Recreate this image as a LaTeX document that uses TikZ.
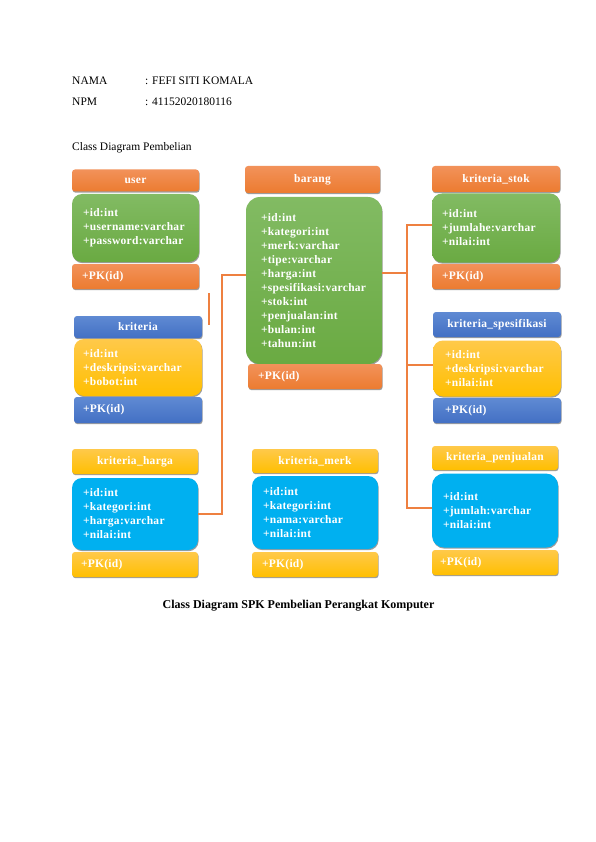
\documentclass[tikz,border=0pt]{standalone}
\usepackage{fontspec}
\setmainfont{Liberation Serif}
\newfontfamily\boxfont[LetterSpace=2.5]{Liberation Serif}
\usetikzlibrary{shadows}
\definecolor{orT}{HTML}{F2925A}
\definecolor{orB}{HTML}{EC7B30}
\definecolor{grT}{HTML}{82BB63}
\definecolor{grB}{HTML}{6AAA42}
\definecolor{blT}{HTML}{5F8AD3}
\definecolor{blB}{HTML}{4370C4}
\definecolor{goT}{HTML}{FFC94A}
\definecolor{goB}{HTML}{FFBF00}
\definecolor{cyanC}{HTML}{00B0F0}
\definecolor{lineC}{HTML}{EE8040}
\tikzset{
  boxbase/.style={rectangle, text=white, inner ysep=0pt, font=\boxfont\bfseries\fontsize{11.5}{14}\selectfont,
    drop shadow={shadow xshift=0.6pt, shadow yshift=-1.2pt, opacity=0.55, fill=black!70}},
  hdr/.style={boxbase, rounded corners=3pt, align=center},
  bodyb/.style={boxbase, rounded corners=10pt, align=left, inner xsep=11pt},
  pkb/.style={boxbase, rounded corners=3pt, align=left, inner xsep=10pt},
  orangeS/.style={top color=orT, bottom color=orB},
  greenS/.style={top color=grT, bottom color=grB},
  blueS/.style={top color=blT, bottom color=blB},
  goldS/.style={top color=goT, bottom color=goB},
  cyanS/.style={fill=cyanC},
  conn/.style={draw=lineC, line width=2pt},
  plain/.style={anchor=west, inner sep=0pt, font=\fontsize{11.5}{14}\selectfont}
}
\begin{document}
\begin{tikzpicture}[x=1pt,y=-1pt]
\useasboundingbox (0,0) rectangle (595,842);
\fill[white] (0,0) rectangle (595,842);
% header texts
\node[plain] (nama) at (72,81) {NAMA};
\node[plain] (namav) at (145,81) {: FEFI SITI KOMALA};
\node[plain] (npm) at (72,102) {NPM};
\node[plain] (npmv) at (145,102) {: 41152020180116};
\node[plain] (cdp) at (72,148) {Class Diagram Pembelian};
% user
\node[hdr, orangeS, minimum width=127pt, minimum height=22pt] (userH) at (135.5,180.5) {user};
\node[bodyb, greenS, minimum height=68pt, text width=105pt] (userB) at (135.5,228) {+id:int\\+username:varchar\\+password:varchar};
\node[pkb, orangeS, minimum height=25pt, text width=107pt] (userP) at (135.5,276.5) {+PK(id)};
% barang
\node[hdr, orangeS, minimum width=135pt, minimum height=27pt] (barangH) at (312.5,179.5) {barang};
\node[bodyb, greenS, rounded corners=14pt, minimum height=167pt, text width=106pt, inner xsep=15pt] (barangB) at (314,280.5) {+id:int\\+kategori:int\\+merk:varchar\\+tipe:varchar\\+harga:int\\+spesifikasi:varchar\\+stok:int\\+penjualan:int\\+bulan:int\\+tahun:int};
\node[pkb, orangeS, minimum height=25pt, text width=114pt] (barangP) at (315,376.5) {+PK(id)};
% kriteria_stok
\node[hdr, orangeS, minimum width=128pt, minimum height=26pt] (stokH) at (496,179) {kriteria\_stok};
\node[bodyb, greenS, minimum height=69pt, text width=108pt, inner xsep=10pt] (stokB) at (496,228) {+id:int\\+jumlahe:varchar\\+nilai:int};
\node[pkb, orangeS, minimum height=25pt, text width=108pt] (stokP) at (496,276.5) {+PK(id)};
% kriteria
\node[hdr, blueS, minimum width=128pt, minimum height=22pt] (kritH) at (138,327) {kriteria};
\node[bodyb, goldS, minimum height=57pt, text width=110pt, inner xsep=9pt] (kritB) at (138,367.5) {+id:int\\+deskripsi:varchar\\+bobot:int};
\node[pkb, blueS, minimum height=26pt, text width=110pt, inner xsep=9pt] (kritP) at (138,410) {+PK(id)};
% kriteria_spesifikasi
\node[hdr, blueS, minimum width=128pt, minimum height=25pt] (spesH) at (497,324.5) {kriteria\_spesifikasi};
\node[bodyb, goldS, minimum height=56pt, text width=104pt, inner xsep=12pt] (spesB) at (497,368.5) {+id:int\\+deskripsi:varchar\\+nilai:int};
\node[pkb, blueS, minimum height=25pt, text width=104pt, inner xsep=12pt] (spesP) at (497,410.5) {+PK(id)};
% kriteria_harga
\node[hdr, goldS, minimum width=126pt, minimum height=25pt] (hargaH) at (135,461.5) {kriteria\_harga};
\node[bodyb, cyanS, minimum height=72pt, text width=104pt] (hargaB) at (135,514) {+id:int\\+kategori:int\\+harga:varchar\\+nilai:int};
\node[pkb, goldS, minimum height=25pt, text width=108pt, inner xsep=9pt] (hargaP) at (135,564.5) {+PK(id)};
% kriteria_merk
\node[hdr, goldS, minimum width=126pt, minimum height=24pt] (merkH) at (315,461) {kriteria\_merk};
\node[bodyb, cyanS, minimum height=73pt, text width=104pt] (merkB) at (315,512.5) {+id:int\\+kategori:int\\+nama:varchar\\+nilai:int};
\node[pkb, goldS, minimum height=25pt, text width=106pt] (merkP) at (315,564.5) {+PK(id)};
% kriteria_penjualan
\node[hdr, goldS, minimum width=126pt, minimum height=24pt] (penjH) at (495,458) {kriteria\_penjualan};
\node[bodyb, cyanS, rounded corners=12pt, minimum height=74pt, text width=104pt] (penjB) at (495,510.5) {+id:int\\+jumlah:varchar\\+nilai:int};
\node[pkb, goldS, minimum height=25pt, text width=110pt, inner xsep=8pt] (penjP) at (495,562.5) {+PK(id)};
% connectors
\coordinate (jL1) at (222,275);
\coordinate (jL2) at (222,514);
\coordinate (jR0) at (407,273);
\coordinate (jR1) at (407,225);
\coordinate (jR2) at (407,365);
\coordinate (jR3) at (407,508);
\coordinate (s1) at (209,293);
\coordinate (s2) at (209,325);
\draw[conn] (barangB.west |- jL1) -- (jL1) -- (jL2) -- (hargaB.east |- jL2);
\draw[conn] (barangB.east |- jR0) -- (jR0);
\draw[conn] (stokB.west |- jR1) -- (jR1) -- (jR3) -- (penjB.west |- jR3);
\draw[conn] (jR2) -- (spesB.west |- jR2);
\draw[draw=lineC, line width=1.8pt] (s1) -- (s2);
% caption
\node[font=\bfseries\fontsize{12}{14}\selectfont, inner sep=0pt] (cap) at (298.5,606) {Class Diagram SPK Pembelian Perangkat Komputer};
\end{tikzpicture}
\end{document}
